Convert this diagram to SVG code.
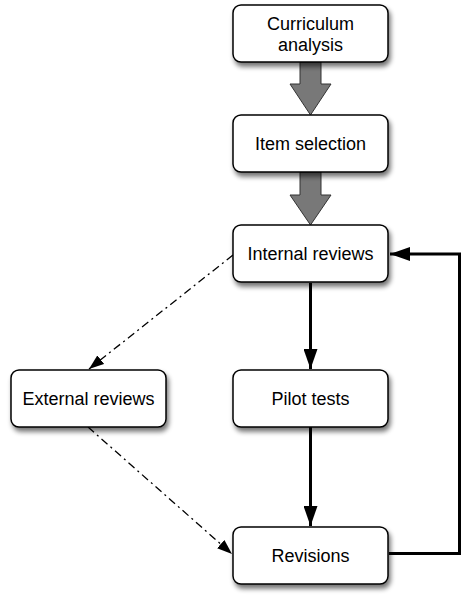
<svg xmlns="http://www.w3.org/2000/svg" width="462" height="601" viewBox="0 0 462 601">
<style>
.box{fill:#fff;stroke:#000;stroke-width:1.5;filter:url(#sh)}
.lbl{font-family:"Liberation Sans",Arial,sans-serif;font-size:18px;fill:#000;text-anchor:middle}
.solid{fill:none;stroke:#000;stroke-width:3}
.dd{fill:none;stroke:#000;stroke-width:1.3;stroke-dasharray:8 4 2 4}
.fat{fill:#787878;stroke:#333;stroke-width:1}
</style>
<defs>
<filter id="sh" x="-20%" y="-20%" width="140%" height="160%">
<feGaussianBlur in="SourceAlpha" stdDeviation="2.5"/>
<feOffset dx="2" dy="4" result="b"/>
<feComponentTransfer><feFuncA type="linear" slope="0.55"/></feComponentTransfer>
<feMerge><feMergeNode/><feMergeNode in="SourceGraphic"/></feMerge>
</filter>
<marker id="ah" markerUnits="userSpaceOnUse" markerWidth="20" markerHeight="14" refX="20" refY="7" orient="auto">
<path d="M0,0 L20,7 L0,14 z" fill="#000"/>
</marker>
<marker id="ahs" markerUnits="userSpaceOnUse" markerWidth="15" markerHeight="11" refX="15" refY="5.5" orient="auto">
<path d="M0,0 L15,5.5 L0,11 z" fill="#000"/>
</marker>
</defs>
<g id="connectors">
<polygon class="fat" points="300,62 321,62 321,84 331,84 310.5,115 290,84 300,84"/>
<polygon class="fat" points="300,172 321,172 321,195 331,195 310.5,225 290,195 300,195"/>
<path class="solid" d="M310.5,283 L310.5,369" marker-end="url(#ah)"/>
<path class="solid" d="M310.5,427 L310.5,526" marker-end="url(#ah)"/>
<path class="solid" d="M389,553.5 L459.5,553.5 L459.5,254 L390,254" marker-end="url(#ah)"/>
<path class="dd" d="M233,255 L89,369" marker-end="url(#ahs)"/>
<path class="dd" d="M88,427 L232,554" marker-end="url(#ahs)"/>
</g>
<g id="curriculum">
<rect class="box" x="233" y="5" width="155" height="57" rx="8"/>
<text class="lbl" x="310.5" y="29.5">Curriculum</text>
<text class="lbl" x="310.5" y="50.5">analysis</text>
</g>
<g id="item">
<rect class="box" x="233" y="115" width="155" height="57" rx="8"/>
<text class="lbl" x="310.5" y="150">Item selection</text>
</g>
<g id="internal">
<rect class="box" x="233" y="225" width="155" height="57" rx="8"/>
<text class="lbl" x="310.5" y="260">Internal reviews</text>
</g>
<g id="external">
<rect class="box" x="11" y="370" width="155" height="57" rx="8"/>
<text class="lbl" x="88.5" y="405">External reviews</text>
</g>
<g id="pilot">
<rect class="box" x="233" y="370" width="155" height="57" rx="8"/>
<text class="lbl" x="310.5" y="405">Pilot tests</text>
</g>
<g id="revisions">
<rect class="box" x="233" y="527" width="155" height="57" rx="8"/>
<text class="lbl" x="310.5" y="561.5">Revisions</text>
</g>
</svg>
